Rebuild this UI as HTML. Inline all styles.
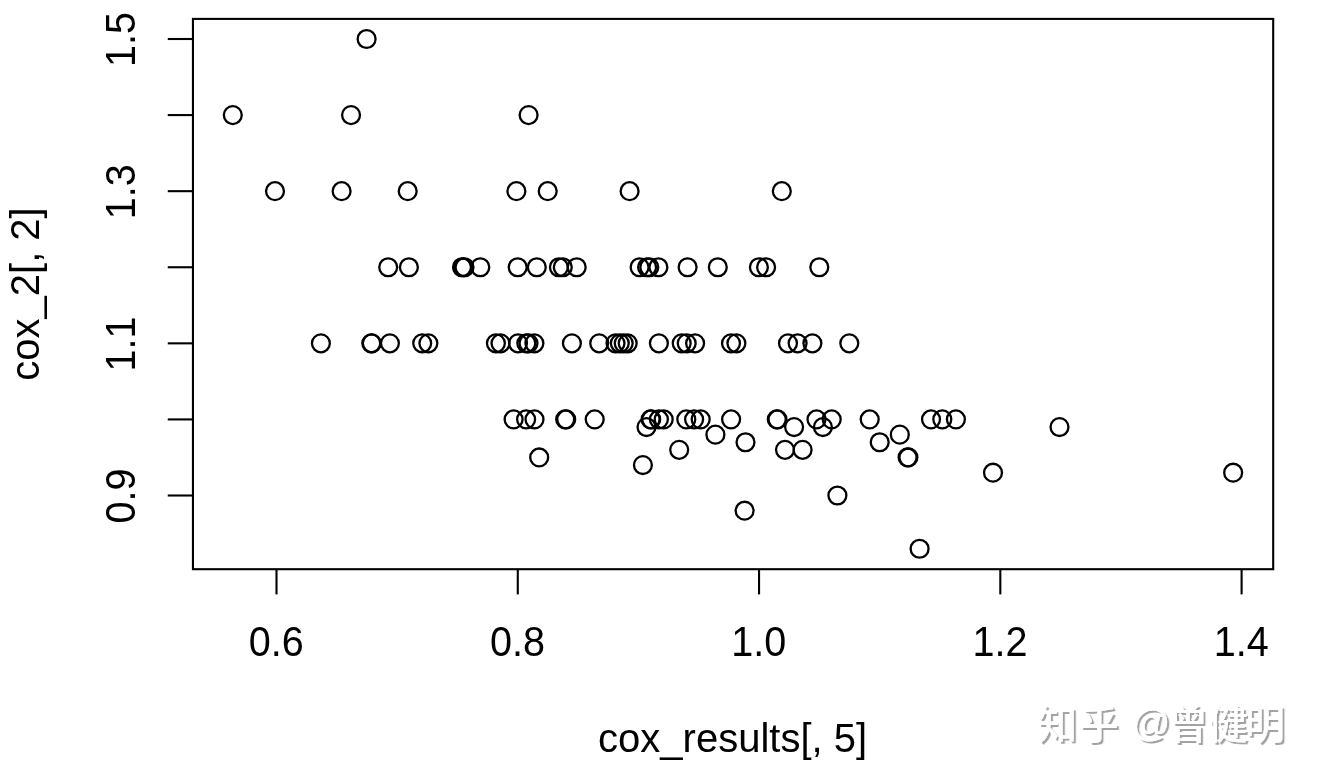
<!DOCTYPE html>
<html lang="en"><head><meta charset="utf-8"><title>cox plot</title>
<style>html,body{margin:0;padding:0;background:#fff;}body{width:1318px;height:780px;overflow:hidden;}svg{display:block;}text{font-family:"Liberation Sans","Noto Sans CJK SC",sans-serif;fill:#000;}.wm{font-family:"Liberation Sans","Noto Sans CJK SC",sans-serif;fill:#fff;}</style></head><body>
<svg width="1318" height="780" viewBox="0 0 1318 780">
<defs><filter id="sh" x="-5%" y="-10%" width="110%" height="130%"><feDropShadow dx="2.2" dy="2" stdDeviation="0.3" flood-color="#000" flood-opacity="0.36"/></filter></defs>
<rect x="0" y="0" width="1318" height="780" fill="#fff"/>
<rect x="192.95" y="18.9" width="1080.25" height="550.30" fill="none" stroke="#000" stroke-width="2.1"/>
<g stroke="#000" stroke-width="2.1" fill="none">
<line x1="276.50" y1="569.2" x2="276.50" y2="594.40"/>
<line x1="517.78" y1="569.2" x2="517.78" y2="594.40"/>
<line x1="759.05" y1="569.2" x2="759.05" y2="594.40"/>
<line x1="1000.32" y1="569.2" x2="1000.32" y2="594.40"/>
<line x1="1241.60" y1="569.2" x2="1241.60" y2="594.40"/>
<line x1="192.95" y1="495.50" x2="167.75" y2="495.50"/>
<line x1="192.95" y1="419.42" x2="167.75" y2="419.42"/>
<line x1="192.95" y1="343.34" x2="167.75" y2="343.34"/>
<line x1="192.95" y1="267.25" x2="167.75" y2="267.25"/>
<line x1="192.95" y1="191.17" x2="167.75" y2="191.17"/>
<line x1="192.95" y1="115.08" x2="167.75" y2="115.08"/>
<line x1="192.95" y1="39.00" x2="167.75" y2="39.00"/>
</g>
<g stroke="#000" stroke-width="2.3" fill="none">
<circle cx="366.60" cy="39.00" r="8.95"/>
<circle cx="232.80" cy="115.08" r="8.95"/>
<circle cx="351.05" cy="115.08" r="8.95"/>
<circle cx="528.60" cy="115.08" r="8.95"/>
<circle cx="275.00" cy="191.17" r="8.95"/>
<circle cx="341.60" cy="191.17" r="8.95"/>
<circle cx="407.70" cy="191.17" r="8.95"/>
<circle cx="516.40" cy="191.17" r="8.95"/>
<circle cx="547.70" cy="191.17" r="8.95"/>
<circle cx="629.60" cy="191.17" r="8.95"/>
<circle cx="781.80" cy="191.17" r="8.95"/>
<circle cx="388.20" cy="267.25" r="8.95"/>
<circle cx="408.90" cy="267.25" r="8.95"/>
<circle cx="462.00" cy="267.25" r="8.95"/>
<circle cx="463.30" cy="267.25" r="8.95"/>
<circle cx="464.50" cy="267.25" r="8.95"/>
<circle cx="480.30" cy="267.25" r="8.95"/>
<circle cx="517.70" cy="267.25" r="8.95"/>
<circle cx="536.80" cy="267.25" r="8.95"/>
<circle cx="558.90" cy="267.25" r="8.95"/>
<circle cx="562.80" cy="267.25" r="8.95"/>
<circle cx="576.70" cy="267.25" r="8.95"/>
<circle cx="639.60" cy="267.25" r="8.95"/>
<circle cx="647.10" cy="267.25" r="8.95"/>
<circle cx="649.30" cy="267.25" r="8.95"/>
<circle cx="658.40" cy="267.25" r="8.95"/>
<circle cx="687.60" cy="267.25" r="8.95"/>
<circle cx="717.80" cy="267.25" r="8.95"/>
<circle cx="758.90" cy="267.25" r="8.95"/>
<circle cx="766.10" cy="267.25" r="8.95"/>
<circle cx="819.30" cy="267.25" r="8.95"/>
<circle cx="320.90" cy="343.34" r="8.95"/>
<circle cx="371.30" cy="343.34" r="8.95"/>
<circle cx="371.80" cy="343.34" r="8.95"/>
<circle cx="389.90" cy="343.34" r="8.95"/>
<circle cx="422.20" cy="343.34" r="8.95"/>
<circle cx="428.40" cy="343.34" r="8.95"/>
<circle cx="495.90" cy="343.34" r="8.95"/>
<circle cx="500.50" cy="343.34" r="8.95"/>
<circle cx="518.00" cy="343.34" r="8.95"/>
<circle cx="526.30" cy="343.34" r="8.95"/>
<circle cx="528.50" cy="343.34" r="8.95"/>
<circle cx="534.40" cy="343.34" r="8.95"/>
<circle cx="571.90" cy="343.34" r="8.95"/>
<circle cx="599.20" cy="343.34" r="8.95"/>
<circle cx="615.50" cy="343.34" r="8.95"/>
<circle cx="619.80" cy="343.34" r="8.95"/>
<circle cx="623.70" cy="343.34" r="8.95"/>
<circle cx="627.70" cy="343.34" r="8.95"/>
<circle cx="658.90" cy="343.34" r="8.95"/>
<circle cx="681.70" cy="343.34" r="8.95"/>
<circle cx="686.70" cy="343.34" r="8.95"/>
<circle cx="695.10" cy="343.34" r="8.95"/>
<circle cx="731.00" cy="343.34" r="8.95"/>
<circle cx="736.40" cy="343.34" r="8.95"/>
<circle cx="788.00" cy="343.34" r="8.95"/>
<circle cx="797.60" cy="343.34" r="8.95"/>
<circle cx="812.40" cy="343.34" r="8.95"/>
<circle cx="849.30" cy="343.34" r="8.95"/>
<circle cx="513.60" cy="419.42" r="8.95"/>
<circle cx="526.10" cy="419.42" r="8.95"/>
<circle cx="534.50" cy="419.42" r="8.95"/>
<circle cx="565.20" cy="419.42" r="8.95"/>
<circle cx="566.20" cy="419.42" r="8.95"/>
<circle cx="594.70" cy="419.42" r="8.95"/>
<circle cx="650.60" cy="419.42" r="8.95"/>
<circle cx="651.20" cy="419.42" r="8.95"/>
<circle cx="658.90" cy="419.42" r="8.95"/>
<circle cx="663.70" cy="419.42" r="8.95"/>
<circle cx="686.30" cy="419.42" r="8.95"/>
<circle cx="694.10" cy="419.42" r="8.95"/>
<circle cx="700.70" cy="419.42" r="8.95"/>
<circle cx="731.10" cy="419.42" r="8.95"/>
<circle cx="776.80" cy="419.42" r="8.95"/>
<circle cx="777.50" cy="419.42" r="8.95"/>
<circle cx="816.50" cy="419.42" r="8.95"/>
<circle cx="831.70" cy="419.42" r="8.95"/>
<circle cx="869.70" cy="419.42" r="8.95"/>
<circle cx="931.00" cy="419.42" r="8.95"/>
<circle cx="942.30" cy="419.42" r="8.95"/>
<circle cx="955.90" cy="419.42" r="8.95"/>
<circle cx="646.50" cy="427.03" r="8.95"/>
<circle cx="794.10" cy="427.03" r="8.95"/>
<circle cx="822.90" cy="427.03" r="8.95"/>
<circle cx="1059.50" cy="427.03" r="8.95"/>
<circle cx="715.40" cy="434.64" r="8.95"/>
<circle cx="899.80" cy="434.64" r="8.95"/>
<circle cx="745.50" cy="442.25" r="8.95"/>
<circle cx="879.70" cy="442.25" r="8.95"/>
<circle cx="679.20" cy="449.85" r="8.95"/>
<circle cx="785.00" cy="449.85" r="8.95"/>
<circle cx="802.60" cy="449.85" r="8.95"/>
<circle cx="539.20" cy="457.46" r="8.95"/>
<circle cx="907.60" cy="457.46" r="8.95"/>
<circle cx="908.40" cy="457.46" r="8.95"/>
<circle cx="642.90" cy="465.07" r="8.95"/>
<circle cx="993.00" cy="472.68" r="8.95"/>
<circle cx="1233.15" cy="472.68" r="8.95"/>
<circle cx="837.40" cy="495.50" r="8.95"/>
<circle cx="744.60" cy="510.72" r="8.95"/>
<circle cx="919.60" cy="548.76" r="8.95"/>
</g>
<g font-size="40" text-anchor="middle">
<text transform="translate(276.20 656.2) scale(0.99 1.05)">0.6</text>
<text transform="translate(517.48 656.2) scale(0.99 1.05)">0.8</text>
<text transform="translate(758.75 656.2) scale(0.99 1.05)">1.0</text>
<text transform="translate(1000.02 656.2) scale(0.99 1.05)">1.2</text>
<text transform="translate(1241.30 656.2) scale(0.99 1.05)">1.4</text>
</g>
<g font-size="40" text-anchor="middle">
<text transform="translate(135.4 496.10) rotate(-90) scale(0.99 1.05)">0.9</text>
<text transform="translate(135.4 343.94) rotate(-90) scale(0.99 1.05)">1.1</text>
<text transform="translate(135.4 191.77) rotate(-90) scale(0.99 1.05)">1.3</text>
<text transform="translate(135.4 39.60) rotate(-90) scale(0.99 1.05)">1.5</text>
</g>
<text x="732.6" y="751.8" font-size="40" text-anchor="middle">cox_results[, 5]</text>
<text transform="translate(39.0 294) rotate(-90)" font-size="40" text-anchor="middle">cox_2[, 2]</text>
<text class="wm" x="1037.6" y="738.8" font-size="39.6" font-weight="500" filter="url(#sh)">知<tspan dx="1.8">乎</tspan> <tspan dx="1.6" dy="-3.2" font-size="38.6">@</tspan><tspan dx="-2.0" dy="3.2">曾</tspan><tspan dx="0.4">健</tspan><tspan dx="-2.8">明</tspan></text>
</svg></body></html>
